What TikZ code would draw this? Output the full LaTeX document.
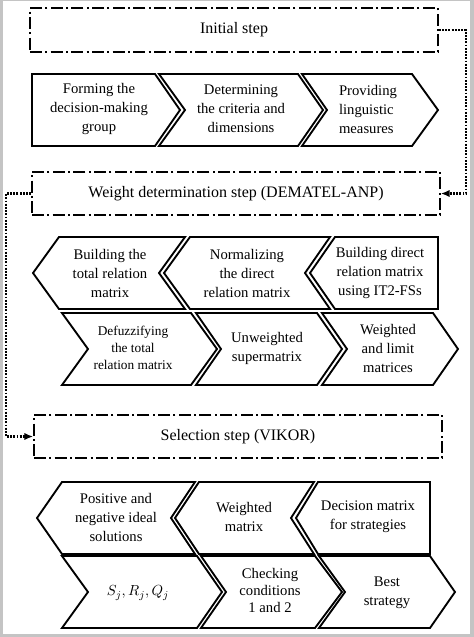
\documentclass[tikz,border=0pt]{standalone}
\usepackage{fontspec}
\setmainfont{Liberation Serif}
\usetikzlibrary{arrows.meta}
\definecolor{framegray}{RGB}{196,196,196}

\begin{document}
\begin{tikzpicture}[x=0.75pt, y=-0.75pt, >={Latex[length=6.5pt,width=5.5pt]},
  phase/.style={draw, line width=1.3pt, dash pattern=on 9pt off 2.5pt on 1.5pt off 2.5pt,
    minimum width=306pt, minimum height=32.5pt, inner sep=0pt, font=\rmfamily\fontsize{12}{14}\selectfont},
  chev/.style={draw, line width=1.4pt, fill=white},
  steptext/.style={align=center, inner sep=0pt, font=\rmfamily\fontsize{11}{14.25}\selectfont},
  link/.style={->, line width=1.7pt, dash pattern=on 1.4pt off 1pt}]
  % frame
  \fill[framegray] (0,0) rectangle (474,637);
  \fill[white] (3,1) rectangle (470,634);
  % phases
  \node[phase] (init) at (234,30) {Initial step};
  \node[phase] (weight) at (236,193.5) {Weight determination step (DEMATEL-ANP)};
  \node[phase] (select) at (238,436.5) {Selection step (VIKOR)};
  \draw[link] (init.east) -- ++(27,0) |- (weight.east);
  \draw[link] (weight.west) -- ++(-25,0) |- (select.west);
  % chevrons: left x / right x / left offset / right offset / top y
  \foreach \xl/\xr/\a/\b/\yt in {32/155/0/25/74, 159/298/26/25/74, 302/412/25/26/74,
      59/185/-26/-26/237, 190/330/-26/-25/237, 335/438/-25/0/237,
      62/191/26/26/313, 196/317/25/25/313, 322/433/25/25/313,
      62/195/-25/-24/482, 199/314/-24/-23/482, 318/430/-22/0/482,
      62/197/26/25/556, 201/315/25/27/556, 319/430/26/25/556}
    \draw[chev] (\xl,\yt) -- (\xr,\yt) -- ({\xr+\b},{\yt+36}) -- (\xr,{\yt+72})
      -- (\xl,{\yt+72}) -- ({\xl+\a},{\yt+36}) -- cycle;
  % initial step
  \node[steptext] (form) at (99,109) {Forming the\\decision-making\\group};
  \node[steptext] (criteria) at (241,109) {Determining\\the criteria and\\dimensions};
  \node[steptext, align=left] (measures) at (368,109) {Providing\\linguistic\\measures};
  % DEMATEL-ANP
  \node[steptext] (total) at (110,273) {Building the\\total relation\\matrix};
  \node[steptext] (normal) at (247,273) {Normalizing\\the direct\\relation matrix};
  \node[steptext] (direct) at (380,273) {Building direct\\relation matrix\\using IT2-FSs};
  \node[steptext, font=\rmfamily\fontsize{10}{12.75}\selectfont] (defuzz) at (133,348) {Defuzzifying\\the total\\relation matrix};
  \node[steptext] (unweight) at (267,348) {Unweighted\\supermatrix};
  \node[steptext] (limit) at (388,348) {Weighted\\and limit\\matrices};
  % VIKOR
  \node[steptext] (ideal) at (116,517) {Positive and\\negative ideal\\solutions};
  \node[steptext] (wmatrix) at (244,517) {Weighted\\matrix};
  \node[steptext] (decision) at (368,517) {Decision matrix\\for strategies};
  \node[steptext] (srq) at (138,593) {$S_j, R_j, Q_j$};
  \node[steptext, font=\rmfamily\fontsize{11}{12.75}\selectfont] (check) at (270,590) {Checking\\conditions\\1 and 2};
  \node[steptext] (best) at (387,593) {Best\\strategy};
\end{tikzpicture}
\end{document}
